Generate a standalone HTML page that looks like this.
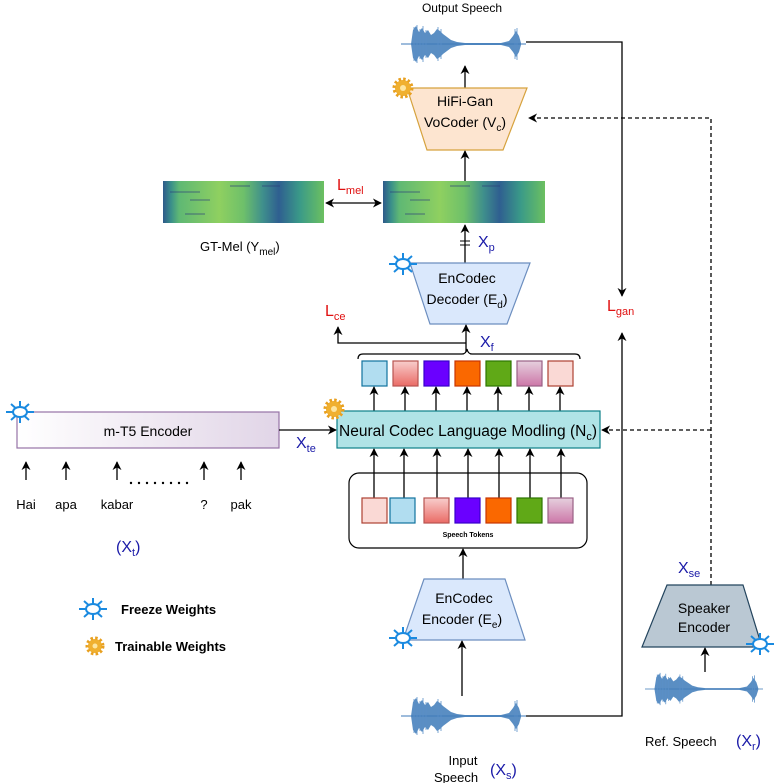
<!DOCTYPE html>
<html><head><meta charset="utf-8"><style>
html,body{margin:0;padding:0;background:#fff;}
svg{display:block;font-family:"Liberation Sans",Arial,sans-serif;}
</style></head><body>
<svg width="783" height="783" viewBox="0 0 783 783" xmlns="http://www.w3.org/2000/svg">
<defs>
<marker id="a" viewBox="0 0 10 10" refX="9" refY="5" markerWidth="9" markerHeight="9" orient="auto-start-reverse" markerUnits="userSpaceOnUse"><path d="M0,0 L10,5 L0,10 L3,5 z" fill="#000"/></marker>
<linearGradient id="mt5" x1="0" x2="1"><stop offset="0" stop-color="#fff"/><stop offset="1" stop-color="#e1d5e7"/></linearGradient>
<linearGradient id="spec" x1="0" x2="1">
<stop offset="0" stop-color="#2e5a8a"/><stop offset="0.05" stop-color="#3a8f8a"/><stop offset="0.1" stop-color="#5fb874"/><stop offset="0.35" stop-color="#8fd060"/><stop offset="0.5" stop-color="#6ec06a"/><stop offset="0.62" stop-color="#3f8f8c"/><stop offset="0.72" stop-color="#2f5f90"/><stop offset="0.85" stop-color="#3a9a88"/><stop offset="1" stop-color="#6cc060"/></linearGradient>
<linearGradient id="pk" x1="0" y1="0" x2="0" y2="1"><stop offset="0" stop-color="#f8cecc"/><stop offset="1" stop-color="#ea6b66"/></linearGradient>
<linearGradient id="mg" x1="0" y1="0" x2="0" y2="1"><stop offset="0" stop-color="#e6d0de"/><stop offset="1" stop-color="#cd77a8"/></linearGradient>
<symbol id="wave" viewBox="0 0 125 40" preserveAspectRatio="none">
<line x1="0" y1="20" x2="125" y2="20" stroke="#3d7ab8" stroke-width="1"/>
<path d="M10,20 L12,6 L15,2 L18,8 L21,4 L24,9 L27,6 L30,11 L33,9 L36,5 L39,7 L42,10 L46,13 L50,16 L56,18 L64,19 L100,19 L108,17 L112,12 L115,7 L118,12 L120,19 L120,21 L118,28 L115,33 L112,28 L108,23 L100,21 L64,21 L56,22 L50,24 L46,27 L42,30 L39,33 L36,35 L33,31 L30,29 L27,34 L24,31 L21,36 L18,32 L15,38 L12,34 Z" fill="#3d7ab8" opacity="0.85"/>
<g stroke="#5a90c8" stroke-width="0.8">
<path d="M13,3V37 M16,1V39 M19,5V35 M22,2V38 M25,6V34 M37,3V37 M40,5V35 M114,5V35 M116,4V36"/>
</g>
</symbol>
</defs>

<text x="462" y="12" font-size="12" text-anchor="middle">Output Speech</text>
<use href="#wave" x="401" y="24" width="125" height="40"/>
<line x1="465" y1="88" x2="465" y2="66" stroke="#000" stroke-width="1.3" marker-end="url(#a)"/>

<polygon points="407,88 527,88 503,150 427,150" fill="#fde5d0" stroke="#d6a23d" stroke-width="1.2"/>
<text x="465" y="106" font-size="14" text-anchor="middle">HiFi-Gan</text>
<text x="465" y="127" font-size="14" text-anchor="middle">VoCoder (V<tspan font-size="10" dy="4">c</tspan><tspan dy="-4">)</tspan></text>
<g transform="translate(403,88)"><circle r="8" fill="#f0b030"/><circle r="9" fill="none" stroke="#e8a020" stroke-width="3" stroke-dasharray="2.5 2.2"/><circle r="3" fill="#fde5a0"/></g>

<rect x="163" y="181" width="161" height="42" fill="url(#spec)"/>
<rect x="383" y="181" width="162" height="42" fill="url(#spec)"/>
<g stroke="#2c3f7a" stroke-width="1.5" opacity="0.45">
<line x1="170" y1="192" x2="200" y2="192"/><line x1="230" y1="186" x2="250" y2="186"/><line x1="262" y1="186" x2="280" y2="186"/><line x1="190" y1="200" x2="210" y2="200"/><line x1="185" y1="214" x2="205" y2="214"/>
<line x1="390" y1="192" x2="420" y2="192"/><line x1="450" y1="186" x2="470" y2="186"/><line x1="482" y1="186" x2="500" y2="186"/><line x1="410" y1="200" x2="430" y2="200"/><line x1="405" y1="214" x2="425" y2="214"/>
</g>
<line x1="326" y1="203" x2="381" y2="203" stroke="#000" stroke-width="1.3" marker-start="url(#a)" marker-end="url(#a)"/>
<text x="337" y="190" font-size="16" fill="#e01010">L<tspan font-size="11" dy="4">mel</tspan></text>
<line x1="465" y1="181" x2="465" y2="151" stroke="#000" stroke-width="1.3" marker-end="url(#a)"/>
<text x="200" y="251" font-size="13">GT-Mel (Y<tspan font-size="10" dy="4">mel</tspan><tspan dy="-4">)</tspan></text>

<line x1="465" y1="263" x2="465" y2="225" stroke="#000" stroke-width="1.3" marker-end="url(#a)"/>
<line x1="460" y1="241" x2="470" y2="241" stroke="#000"/><line x1="460" y1="245" x2="470" y2="245" stroke="#000"/>
<text x="478" y="247" font-size="16" fill="#1a1aa8">X<tspan font-size="11" dy="4">p</tspan></text>

<polygon points="410,263 530,263 507,324 430,324" fill="#dae8fc" stroke="#6c8ebf" stroke-width="1.2"/>
<text x="467" y="283" font-size="14" text-anchor="middle">EnCodec</text>
<text x="467" y="304" font-size="14" text-anchor="middle">Decoder (E<tspan font-size="10" dy="4">d</tspan><tspan dy="-4">)</tspan></text>
<g transform="translate(403,264)" stroke="#1a8ae0" stroke-width="2" fill="#fff"><line x1="-14" y1="0" x2="14" y2="0"/><line x1="0" y1="-11" x2="0" y2="11"/><line x1="-9" y1="-8" x2="9" y2="8"/><line x1="-9" y1="8" x2="9" y2="-8"/><ellipse rx="7" ry="5"/></g>

<line x1="466" y1="352" x2="466" y2="325" stroke="#000" stroke-width="1.3" marker-end="url(#a)"/>
<polyline points="466,343 338,343 338,327" fill="none" stroke="#000" stroke-width="1.3" marker-end="url(#a)"/>
<text x="325" y="316" font-size="16" fill="#e01010">L<tspan font-size="11" dy="4">ce</tspan></text>
<text x="480" y="347" font-size="16" fill="#1a1aa8">X<tspan font-size="11" dy="4">f</tspan></text>
<path d="M358,359 Q358,354 363,354 L462,354 Q466,354 467,349 Q468,354 472,354 L575,354 Q580,354 580,359" fill="none" stroke="#000" stroke-width="1.2"/>

<g stroke-width="1.2">
<rect x="362" y="361" width="25" height="25" fill="#b1ddf0" stroke="#10739e"/>
<rect x="393" y="361" width="25" height="25" fill="url(#pk)" stroke="#b85450"/>
<rect x="424" y="361" width="25" height="25" fill="#6a00ff" stroke="#3700cc"/>
<rect x="455" y="361" width="25" height="25" fill="#fa6800" stroke="#c73500"/>
<rect x="486" y="361" width="25" height="25" fill="#60a917" stroke="#2d7600"/>
<rect x="517" y="361" width="25" height="25" fill="url(#mg)" stroke="#996185"/>
<rect x="548" y="361" width="25" height="25" fill="#fad9d5" stroke="#ae4132"/>
</g>
<g stroke="#000" stroke-width="1.3" marker-end="url(#a)">
<line x1="374" y1="411" x2="374" y2="387"/><line x1="405" y1="411" x2="405" y2="387"/><line x1="436" y1="411" x2="436" y2="387"/><line x1="467" y1="411" x2="467" y2="387"/><line x1="498" y1="411" x2="498" y2="387"/><line x1="529" y1="411" x2="529" y2="387"/><line x1="560" y1="411" x2="560" y2="387"/>
</g>

<rect x="337" y="411" width="263" height="37" fill="#b0e3e6" stroke="#0e8088" stroke-width="1.2"/>
<text x="468" y="436" font-size="15.5" text-anchor="middle">Neural Codec Language Modling (N<tspan font-size="11" dy="4">c</tspan><tspan dy="-4">)</tspan></text>
<g transform="translate(334,409)"><circle r="8" fill="#f0b030"/><circle r="9" fill="none" stroke="#e8a020" stroke-width="3" stroke-dasharray="2.5 2.2"/><circle r="3" fill="#fde5a0"/></g>

<g stroke="#000" stroke-width="1.3" marker-end="url(#a)">
<line x1="374" y1="498" x2="374" y2="449"/><line x1="404" y1="498" x2="404" y2="449"/><line x1="437" y1="498" x2="437" y2="449"/><line x1="468" y1="498" x2="468" y2="449"/><line x1="499" y1="498" x2="499" y2="449"/><line x1="530" y1="498" x2="530" y2="449"/><line x1="561" y1="498" x2="561" y2="449"/>
</g>
<rect x="349" y="473" width="238" height="75" rx="10" fill="none" stroke="#000" stroke-width="1.2"/>
<g stroke-width="1.2">
<rect x="362" y="498" width="25" height="25" fill="#fad9d5" stroke="#ae4132"/>
<rect x="390" y="498" width="25" height="25" fill="#b1ddf0" stroke="#10739e"/>
<rect x="424" y="498" width="25" height="25" fill="url(#pk)" stroke="#b85450"/>
<rect x="455" y="498" width="25" height="25" fill="#6a00ff" stroke="#3700cc"/>
<rect x="486" y="498" width="25" height="25" fill="#fa6800" stroke="#c73500"/>
<rect x="517" y="498" width="25" height="25" fill="#60a917" stroke="#2d7600"/>
<rect x="548" y="498" width="25" height="25" fill="url(#mg)" stroke="#996185"/>
</g>
<text x="468" y="537" font-size="7" font-weight="bold" text-anchor="middle">Speech Tokens</text>

<line x1="463" y1="579" x2="463" y2="549" stroke="#000" stroke-width="1.3" marker-end="url(#a)"/>
<polygon points="424,579 505,579 525,640 403,640" fill="#dae8fc" stroke="#6c8ebf" stroke-width="1.2"/>
<text x="464" y="603" font-size="14" text-anchor="middle">EnCodec</text>
<text x="462" y="624" font-size="14" text-anchor="middle">Encoder (E<tspan font-size="10" dy="4">e</tspan><tspan dy="-4">)</tspan></text>
<g transform="translate(403,638)" stroke="#1a8ae0" stroke-width="2" fill="#fff"><line x1="-14" y1="0" x2="14" y2="0"/><line x1="0" y1="-11" x2="0" y2="11"/><line x1="-9" y1="-8" x2="9" y2="8"/><line x1="-9" y1="8" x2="9" y2="-8"/><ellipse rx="7" ry="5"/></g>
<line x1="462" y1="696" x2="462" y2="641" stroke="#000" stroke-width="1.3" marker-end="url(#a)"/>
<use href="#wave" x="401" y="696" width="125" height="40"/>
<text x="463" y="765" font-size="13" text-anchor="middle">Input</text>
<text x="456" y="782" font-size="13" text-anchor="middle">Speech</text>
<text x="490" y="775" font-size="16" fill="#1a1aa8">(X<tspan font-size="11" dy="4">s</tspan><tspan dy="-4">)</tspan></text>

<polyline points="526,42 622,42 622,296" fill="none" stroke="#000" stroke-width="1.3" marker-end="url(#a)"/>
<polyline points="526,716 622,716 622,333" fill="none" stroke="#000" stroke-width="1.3" marker-end="url(#a)"/>
<text x="607" y="311" font-size="16" fill="#e01010">L<tspan font-size="11" dy="4">gan</tspan></text>

<polyline points="711,585 711,118 529,118" fill="none" stroke="#000" stroke-width="1.3" stroke-dasharray="4 3" marker-end="url(#a)"/>
<line x1="711" y1="430" x2="602" y2="430" stroke="#000" stroke-width="1.3" stroke-dasharray="4 3" marker-end="url(#a)"/>

<polygon points="667,585 743,585 762,647 642,647" fill="#bac8d3" stroke="#23445d" stroke-width="1.2"/>
<text x="704" y="613" font-size="14" text-anchor="middle">Speaker</text>
<text x="704" y="632" font-size="14" text-anchor="middle">Encoder</text>
<g transform="translate(760,644)" stroke="#1a8ae0" stroke-width="2" fill="#fff"><line x1="-14" y1="0" x2="14" y2="0"/><line x1="0" y1="-11" x2="0" y2="11"/><line x1="-9" y1="-8" x2="9" y2="8"/><line x1="-9" y1="8" x2="9" y2="-8"/><ellipse rx="7" ry="5"/></g>
<text x="678" y="573" font-size="16" fill="#1a1aa8">X<tspan font-size="11" dy="4">se</tspan></text>
<line x1="705" y1="672" x2="705" y2="648" stroke="#000" stroke-width="1.3" marker-end="url(#a)"/>
<use href="#wave" x="645" y="672" width="118" height="34"/>
<text x="645" y="746" font-size="13">Ref. Speech</text>
<text x="736" y="746" font-size="16" fill="#1a1aa8">(X<tspan font-size="11" dy="4">r</tspan><tspan dy="-4">)</tspan></text>

<rect x="17" y="412" width="262" height="36" fill="url(#mt5)" stroke="#9673a6" stroke-width="1.2"/>
<text x="148" y="436" font-size="14" text-anchor="middle">m-T5 Encoder</text>
<g transform="translate(20,412)" stroke="#1a8ae0" stroke-width="2" fill="#fff"><line x1="-14" y1="0" x2="14" y2="0"/><line x1="0" y1="-11" x2="0" y2="11"/><line x1="-9" y1="-8" x2="9" y2="8"/><line x1="-9" y1="8" x2="9" y2="-8"/><ellipse rx="7" ry="5"/></g>
<line x1="279" y1="430" x2="336" y2="430" stroke="#000" stroke-width="1.3" marker-end="url(#a)"/>
<text x="296" y="448" font-size="16" fill="#1a1aa8">X<tspan font-size="11" dy="4">te</tspan></text>
<g stroke="#000" stroke-width="1.3" marker-end="url(#a)">
<line x1="26" y1="480" x2="26" y2="462"/><line x1="66" y1="480" x2="66" y2="462"/><line x1="117" y1="480" x2="117" y2="462"/><line x1="204" y1="480" x2="204" y2="462"/><line x1="241" y1="480" x2="241" y2="462"/>
</g>
<g fill="#000"><circle cx="131" cy="483" r="1.2"/><circle cx="139" cy="483" r="1.2"/><circle cx="147" cy="483" r="1.2"/><circle cx="155" cy="483" r="1.2"/><circle cx="163" cy="483" r="1.2"/><circle cx="171" cy="483" r="1.2"/><circle cx="179" cy="483" r="1.2"/><circle cx="187" cy="483" r="1.2"/></g>
<g font-size="13" text-anchor="middle">
<text x="26" y="509">Hai</text><text x="66" y="509">apa</text><text x="117" y="509">kabar</text><text x="204" y="509">?</text><text x="241" y="509">pak</text>
</g>
<text x="116" y="552" font-size="16" fill="#1a1aa8">(X<tspan font-size="11" dy="4">t</tspan><tspan dy="-4">)</tspan></text>

<g transform="translate(93,609)" stroke="#1a8ae0" stroke-width="2" fill="#fff"><line x1="-14" y1="0" x2="14" y2="0"/><line x1="0" y1="-11" x2="0" y2="11"/><line x1="-9" y1="-8" x2="9" y2="8"/><line x1="-9" y1="8" x2="9" y2="-8"/><ellipse rx="7" ry="5"/></g>
<text x="121" y="614" font-size="13" font-weight="bold">Freeze Weights</text>
<g transform="translate(95,646)"><circle r="7" fill="#f0b030"/><circle r="8" fill="none" stroke="#e8a020" stroke-width="3" stroke-dasharray="2.5 2.2"/><circle r="2.5" fill="#fde5a0"/></g>
<text x="115" y="651" font-size="13" font-weight="bold">Trainable Weights</text>
</svg>
</body></html>
